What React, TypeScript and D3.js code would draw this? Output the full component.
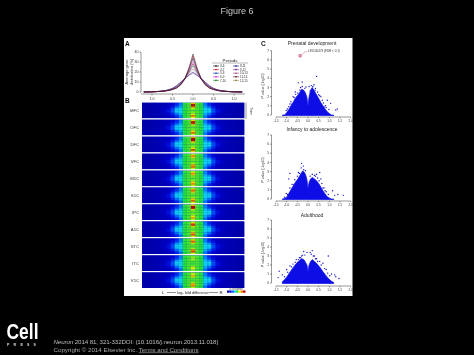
import React from "react";
import * as d3 from "d3";

const W = 474, H = 355;
const FONT = "'Liberation Sans', Arial, sans-serif";

// Panel A
const fcBins = [0, 0.1, 0.2, 0.3, 0.4, 0.5, 0.6, 0.7, 0.8, 0.9, 1.0, 1.1, 1.2];
const periods = ["3-6", "4-7", "5-8", "6-9", "7-10", "8-11", "9-12", "10-13", "11-14", "12-15"];
const periodColors = ["#000000", "#e01020", "#1030a0", "#d020c0", "#208030", "#101080", "#702090", "#a04080", "#501020", "#908040"];
const curves = [
  [38, 24, 13, 7, 4, 2.4, 1.5, 0.9, 0.6, 0.4, 0.2, 0.1, 0.1],
  [36, 23, 13, 7.2, 4, 2.5, 1.5, 0.9, 0.6, 0.4, 0.2, 0.1, 0.1],
  [34, 22, 13, 7.6, 4.2, 2.6, 1.6, 1, 0.6, 0.4, 0.2, 0.1, 0.1],
  [30, 21, 13.5, 8, 4.6, 2.8, 1.7, 1, 0.6, 0.4, 0.2, 0.1, 0.1],
  [26, 19.5, 13.5, 8.6, 5.2, 3, 1.8, 1.1, 0.7, 0.4, 0.2, 0.1, 0.1],
  [20, 17, 13.5, 9.6, 6.2, 3.6, 2.1, 1.2, 0.7, 0.4, 0.2, 0.1, 0.1],
  [19, 16.5, 13.5, 10, 6.4, 3.8, 2.2, 1.3, 0.7, 0.4, 0.2, 0.1, 0.1],
  [23, 18.5, 13.5, 9, 5.6, 3.2, 1.9, 1.1, 0.7, 0.4, 0.2, 0.1, 0.1],
  [28, 20, 13.5, 8.2, 4.8, 2.9, 1.7, 1, 0.6, 0.4, 0.2, 0.1, 0.1],
  [33, 22, 13, 7.6, 4.2, 2.6, 1.6, 1, 0.6, 0.4, 0.2, 0.1, 0.1],
];
const yTicksA = [0, 10, 20, 30, 40];
const xTicksA = [-1, -0.5, 0, 0.5, 1];

// Panel B
const regions = ["MFC", "OFC", "DFC", "VFC", "M1C", "S1C", "IPC", "A1C", "STC", "ITC", "V1C"];
const centerByRegion = [
  [27, 37, 34, 22, 17, 16, 18, 22, 30, 24],
  [25, 36, 35, 21, 16, 16, 18, 25, 31, 22],
  [28, 39, 39, 26, 17, 16, 19, 24, 34, 26],
  [20, 29, 26, 18, 16, 16, 20, 28, 31, 22],
  [19, 26, 28, 19, 16, 15, 19, 25, 29, 22],
  [20, 29, 29, 20, 16, 15, 19, 26, 32, 23],
  [26, 39, 36, 22, 16, 16, 18, 23, 28, 22],
  [22, 30, 34, 22, 16, 16, 20, 28, 33, 25],
  [20, 28, 30, 20, 16, 15, 20, 29, 34, 23],
  [16, 19, 20, 16, 14, 14, 16, 21, 23, 18],
  [18, 23, 27, 18, 15, 15, 19, 27, 30, 21],
];
const shoulder = [
  [15, 13, 4.5, 2.2, 1.3, 0.8, 0.5, 0.4, 0.3, 0.2, 0.1, 0.1],
  [15, 13, 5, 2.6, 1.4, 0.8, 0.5, 0.4, 0.3, 0.2, 0.1, 0.1],
  [15, 13, 5.5, 3.6, 1.8, 0.9, 0.6, 0.4, 0.3, 0.2, 0.1, 0.1],
  [15, 13, 6.4, 5.4, 2.6, 1.2, 0.7, 0.4, 0.3, 0.2, 0.1, 0.1],
  [15, 13, 7, 6.8, 3.4, 1.6, 0.8, 0.5, 0.3, 0.2, 0.1, 0.1],
  [15, 13, 7, 6.8, 3.6, 1.8, 0.9, 0.5, 0.3, 0.2, 0.1, 0.1],
  [15, 13, 6.8, 5.8, 3, 1.4, 0.8, 0.4, 0.3, 0.2, 0.1, 0.1],
  [15, 13, 6, 4.4, 2.2, 1, 0.6, 0.4, 0.3, 0.2, 0.1, 0.1],
  [15, 13, 5.2, 3, 1.6, 0.8, 0.5, 0.4, 0.3, 0.2, 0.1, 0.1],
  [15, 13, 4.5, 2.2, 1.3, 0.8, 0.5, 0.4, 0.3, 0.2, 0.1, 0.1],
];
const heatStops = [0, 1.5, 4, 7, 12, 24, 30, 38];
const heatColors = ["#0000a8", "#0008d8", "#0060ff", "#10d8f0", "#10e040", "#f0f000", "#ff7000", "#b80000"];

// Panel C
const volcanoTitles = ["Prenatal development", "Infancy to adolescence", "Adulthood"];
const envX = [-1.2, -1.1, -1, -0.9, -0.8, -0.7, -0.6, -0.5, -0.4, -0.3, -0.2, -0.12, -0.05, 0, 0.05, 0.12, 0.2, 0.3, 0.4, 0.5, 0.6, 0.7, 0.8, 0.9, 1, 1.1, 1.2];
const envelopes = [
  [0, 0, 0.25, 0.6, 1, 1.35, 1.8, 2.1, 2.4, 2.8, 2.7, 2.4, 1.9, 1, 2, 2.7, 3, 2.6, 2.2, 1.8, 1.35, 1, 0.65, 0.35, 0.15, 0, 0],
  [0, 0.05, 0.2, 0.6, 1, 1.4, 1.8, 2.1, 2.5, 2.9, 3, 2.7, 2.1, 1.15, 1.8, 2.2, 2.35, 2.2, 2, 1.7, 1.3, 0.9, 0.55, 0.25, 0.1, 0, 0],
  [0.15, 0.35, 0.65, 1, 1.35, 1.7, 2, 2.3, 2.5, 2.7, 2.6, 2.3, 2, 1.3, 2, 2.4, 2.6, 2.4, 2.2, 1.9, 1.6, 1.25, 0.95, 0.65, 0.4, 0.2, 0.05],
];
const outliersX = [
  [0.4, -0.45, -0.27, -0.27, 0.23, 0.33, -0.9, -0.97, 1.06, 1.3, 1.37, 0.75, 0.9, -0.7, -0.8, -0.58, 0.67, 0.05, -0.1, 0.1, 0.5, 0.6, -0.6, -0.75, 0.85, 0.28, -0.35, -0.48, -0.38, -0.65, -0.85, 0.35, 0.45, 0.55, 0.72, 0.82, 0.98, -1.02, -0.15, 0.15],
  [-0.3, -0.32, -0.85, -0.9, -0.45, -0.62, 0.55, 0.2, 0.4, 1.15, 1.25, 1.4, 1.65, 0.85, 0.95, -1.1, -0.95, -0.26, -0.2, 0.3, 0.65, -0.7, 0.75, 0.6, -0.22, -0.5, -0.4, -0.75, 0.45, 0.52, 0.35, 0.7, 0.8, -0.85, -0.12, 0.1, -1.02],
  [-0.05, 0.1, 0.2, 0.3, -0.3, -0.35, 0.95, -1.35, -1.4, -1.2, 1.3, 1.45, 0.55, 0.7, -0.55, -0.7, -0.15, 0.4, 0.85, 1.1, -1, -0.85, 0.15, -0.2, 0.45, 1.25, -0.95, -0.45, -0.6, -0.78, 0.62, 0.78, 0.92, 1.02, -1.1, -0.25, 0.25, 0.35, -0.4],
];
const outliersY = [
  [4.2, 3.5, 3.6, 3.1, 3.1, 2.7, 0.9, 0.65, 1.27, 0.55, 0.65, 0.9, 1.6, 2, 1.45, 2.25, 1.6, 3.1, 3.05, 2.6, 2.2, 2, 2.5, 1.2, 0.8, 3.3, 3, 2.4, 2.7, 1.9, 1.2, 2.9, 2.5, 2.1, 1.3, 1, 0.6, 0.5, 2.9, 3.2],
  [3.9, 3.4, 2.8, 2.2, 2.9, 2.1, 2.9, 2.7, 2.7, 0.9, 0.4, 0.5, 0.4, 0.8, 0.5, 0.2, 0.5, 3, 3.2, 2.6, 1.7, 1.6, 1.2, 2.2, 3.6, 2.5, 2.8, 1.6, 2.3, 2, 2.5, 1.2, 0.9, 1.2, 3.1, 2.5, 0.6],
  [3.4, 3.4, 3.6, 3, 3, 2.8, 3, 1.3, 0.6, 0.9, 0.7, 0.5, 2.4, 2.2, 2.6, 2.1, 3.1, 2.7, 1.5, 1, 1.5, 1.9, 3.2, 3.5, 2.4, 0.9, 1.2, 2.6, 2.3, 1.8, 2, 1.6, 1.1, 0.8, 0.7, 3.1, 3, 2.7, 2.8],
];
const volcanoYTicks = [0, 1, 2, 3, 4, 5, 6, 7];
const volcanoXTicks = [-1.5, -1, -0.5, 0, 0.5, 1, 1.5, 2];
const highlightX = [-0.37];
const highlightY = [6.45];

export default function App() {
  const txA = d3.scaleLinear().domain([-1, 1]).range([152, 234]);
  const tyA = d3.scaleLinear().domain([0, 40]).range([92, 52]);
  const fullX = [...fcBins.slice(1).reverse().map((v) => -v), ...fcBins];
  const lineA = d3.line<number>().x((_, i) => txA(fullX[i])).y((d) => tyA(d));

  const heat = d3.scaleLinear<string>().domain(heatStops).range(heatColors).clamp(true);
  const rowBand = d3.scaleBand<string>().domain(regions).range([102.5, 288]).paddingInner(0.07);
  const periodBand = d3.scaleBand<string>().domain(periods).range([0, 1]);
  const binW = txA(0.1) - txA(0);

  const panelsY = [
    { y0: 115, y7: 50.7, axis: 117, title: 45 },
    { y0: 199, y7: 135, axis: 201, title: 131 },
    { y0: 283, y7: 220, axis: 286, title: 217 },
  ];
  const vx = d3.scaleLinear().domain([-1.5, 2]).range([276, 350.7]);

  return (
    <svg width={W} height={H} viewBox={`0 0 ${W} ${H}`} style={{ position: "fixed", left: 0, top: 0, background: "#000", fontFamily: FONT }}>
      <defs>
        <filter id="soft" x="-2%" y="-2%" width="104%" height="104%"><feGaussianBlur stdDeviation="0.4" /></filter>
        <filter id="heatBlur" x="-5%" y="-5%" width="110%" height="110%"><feGaussianBlur stdDeviation="0.7 0.5" /></filter>
        {regions.map((r) => (
          <clipPath id={`clip-${r}`} key={r}>
            <rect x={142} y={rowBand(r)} width={102.5} height={rowBand.bandwidth()} />
          </clipPath>
        ))}
      </defs>
      <rect width={W} height={H} fill="#000" />
      <text x={237} y={14} textAnchor="middle" fontSize={9} fill="#c8c8c8" filter="url(#soft)">Figure 6</text>
      <rect x={124} y={38} width={228.5} height={258} fill="#fff" />

      <g filter="url(#soft)">
        <text x={125} y={46} fontSize={6.5} fontWeight="bold" fill="#111">A</text>
        <text x={125} y={103} fontSize={6.5} fontWeight="bold" fill="#111">B</text>
        <text x={261} y={46} fontSize={6.5} fontWeight="bold" fill="#111">C</text>

        {/* Panel A */}
        <line x1={141} x2={141} y1={tyA(40)} y2={tyA(0)} stroke="#333" strokeWidth={0.5} />
        {yTicksA.map((t) => (
          <g key={t}>
            <line x1={139.5} x2={141} y1={tyA(t)} y2={tyA(t)} stroke="#333" strokeWidth={0.5} />
            <text x={138.5} y={tyA(t) + 1.2} textAnchor="end" fontSize={3.6} fill="#333">{t}</text>
          </g>
        ))}
        <text transform="translate(128,72) rotate(-90)" textAnchor="middle" fontSize={4} fill="#333">Average gene</text>
        <text transform="translate(133,72) rotate(-90)" textAnchor="middle" fontSize={4} fill="#333">distribution (%)</text>
        <line x1={141} x2={245} y1={94} y2={94} stroke="#333" strokeWidth={0.5} />
        {xTicksA.map((t) => (
          <g key={t}>
            <line x1={txA(t)} x2={txA(t)} y1={94} y2={95.5} stroke="#333" strokeWidth={0.5} />
            <text x={txA(t)} y={99.5} textAnchor="middle" fontSize={3.6} fill="#333">{Math.abs(t).toFixed(1)}</text>
          </g>
        ))}
        {[...curves.keys()].reverse().map((i) => (
          <path key={i} d={lineA([...curves[i].slice(1).reverse(), ...curves[i]]) ?? ""} fill="none" stroke={periodColors[i]} strokeOpacity={0.75} strokeWidth={0.6} />
        ))}
        <text x={230} y={62} textAnchor="middle" fontSize={4.4} fill="#222">Periods</text>
        <line x1={212} x2={248} y1={63} y2={63} stroke="#444" strokeWidth={0.4} />
        {periods.map((p, i) => {
          const col = i < 5 ? 0 : 1;
          const row = i % 5;
          const x = 213 + col * 20;
          const y = 66 + row * 3.6;
          return (
            <g key={p}>
              <line x1={x} x2={x + 6} y1={y} y2={y} stroke={periodColors[i]} strokeWidth={0.6} />
              <circle cx={x + 3} cy={y} r={0.8} fill={periodColors[i]} />
              <text x={x + 7} y={y + 1.1} fontSize={3} fill="#333">{p}</text>
            </g>
          );
        })}

        {/* Panel B */}
        {regions.map((r, ri) => (
          <g key={r}>
            <text x={139} y={(rowBand(r) ?? 0) + rowBand.bandwidth() / 2 + 1.5} textAnchor="end" fontSize={4.2} fill="#333">{r}</text>
            <g clipPath={`url(#clip-${r})`}>
              <rect x={142} y={rowBand(r)} width={102.5} height={rowBand.bandwidth()} fill="#0000b0" />
              <g filter="url(#heatBlur)">
                {periods.map((p, ti) => {
                  const y = (rowBand(r) ?? 0) + (periodBand(p) ?? 0) * rowBand.bandwidth();
                  const h = periodBand.bandwidth() * rowBand.bandwidth() + 0.2;
                  return (
                    <g key={p}>
                      <rect x={txA(0) - binW / 2} y={y} width={binW} height={h} fill={heat(centerByRegion[ri][ti])} />
                      {shoulder[ti].map((v, b) => (
                        <g key={b}>
                          <rect x={txA(fcBins[b + 1]) - binW / 2} y={y} width={binW + 0.2} height={h} fill={heat(v)} />
                          <rect x={txA(-fcBins[b + 1]) - binW / 2 - 0.2} y={y} width={binW + 0.2} height={h} fill={heat(v)} />
                        </g>
                      ))}
                    </g>
                  );
                })}
              </g>
            </g>
          </g>
        ))}
        <line x1={246} x2={246} y1={102.5} y2={119} stroke="#333" strokeWidth={0.5} />
        <text transform="translate(250,111) rotate(90)" textAnchor="middle" fontSize={3.6} fill="#333">Time</text>
        <text x={163} y={294} textAnchor="middle" fontSize={4.2} fill="#222">L</text>
        <text x={193} y={294} textAnchor="middle" fontSize={3.8} fill="#222">log₂ fold difference</text>
        <text x={221} y={294} textAnchor="middle" fontSize={4.2} fill="#222">R</text>
        <line x1={167} x2={176} y1={292.5} y2={292.5} stroke="#222" strokeWidth={0.5} />
        <line x1={209} x2={218} y1={292.5} y2={292.5} stroke="#222" strokeWidth={0.5} />
        <text x={236} y={289.5} textAnchor="middle" fontSize={2.8} fill="#333">% of genes</text>
        {heatStops.map((s, i) => (
          <rect key={s} x={227 + i * 2.3} y={290.5} width={2.4} height={2.2} fill={heatColors[i]} />
        ))}

        {/* Panel C */}
        {panelsY.map((p, pi) => {
          const vy = d3.scaleLinear().domain([0, 7]).range([p.y0, p.y7]);
          const area = d3.area<number>().x((_, i) => vx(envX[i])).y0(vy(0) + 0.5).y1((d) => vy(d));
          return (
            <g key={pi}>
              <text x={312} y={p.title} textAnchor="middle" fontSize={5} fill="#222">{volcanoTitles[pi]}</text>
              <line x1={271.5} x2={271.5} y1={p.y7} y2={p.y0} stroke="#333" strokeWidth={0.5} />
              {volcanoYTicks.map((t) => (
                <g key={t}>
                  <line x1={270} x2={271.5} y1={vy(t)} y2={vy(t)} stroke="#333" strokeWidth={0.5} />
                  <text x={269} y={vy(t) + 1.1} textAnchor="end" fontSize={3.2} fill="#333">{t}</text>
                </g>
              ))}
              <text transform={`translate(264,${(p.y0 + p.y7) / 2 + 3}) rotate(-90)`} textAnchor="middle" fontSize={3.6} fill="#333">P value (-log10)</text>
              <line x1={vx(-1.5)} x2={vx(2)} y1={p.axis} y2={p.axis} stroke="#333" strokeWidth={0.5} />
              {volcanoXTicks.map((t) => (
                <g key={t}>
                  <line x1={vx(t)} x2={vx(t)} y1={p.axis} y2={p.axis + 1.3} stroke="#333" strokeWidth={0.5} />
                  <text x={vx(t)} y={p.axis + 4.8} textAnchor="middle" fontSize={3} fill="#333">{t.toFixed(1)}</text>
                </g>
              ))}
              <path d={area(envelopes[pi]) ?? ""} fill="#0a0ae6" stroke="#0a0ae6" strokeWidth={0.7} strokeLinejoin="round" />
              {outliersX[pi].map((x, i) => (
                <circle key={i} cx={vx(x)} cy={vy(outliersY[pi][i])} r={0.7} fill="#1414c8" />
              ))}
              {pi === 0 && highlightX.map((x, i) => (
                <g key={i}>
                  <circle cx={vx(x)} cy={vy(highlightY[i])} r={1.5} fill="#e8a0b8" stroke="#a03060" strokeWidth={0.4} />
                  <path d={`M${vx(x) + 1.5},${vy(highlightY[i]) - 0.5} Q${vx(x) + 4},${vy(6.95)} ${vx(x) + 7},${vy(6.95)}`} fill="none" stroke="#c04070" strokeWidth={0.4} />
                  <text x={vx(x) + 8} y={vy(6.95) + 1} fontSize={3} fill="#333">LINC00473 (FDR &lt; 0.1)</text>
                </g>
              ))}
            </g>
          );
        })}
      </g>

      <g filter="url(#soft)">
        <text x={6.5} y={339} fontSize={22} fontWeight="bold" fill="#fff" textLength={32} lengthAdjust="spacingAndGlyphs">Cell</text>
        <text x={7} y={345.5} fontSize={3.6} fontWeight="bold" fill="#ddd" letterSpacing={4.2}>PRESS</text>
        <text x={53.5} y={344} fontSize={6.2} fill="#bdbdbd" textLength={165}>
          <tspan fontStyle="italic">Neuron</tspan> 2014 81, 321-332DOI: (10.1016/j.neuron.2013.11.018)
        </text>
        <text x={53.5} y={351.5} fontSize={6.2} fill="#a8a8a8">
          Copyright © 2014 Elsevier Inc. <tspan textDecoration="underline"> Terms and Conditions</tspan>
        </text>
      </g>
    </svg>
  );
}
